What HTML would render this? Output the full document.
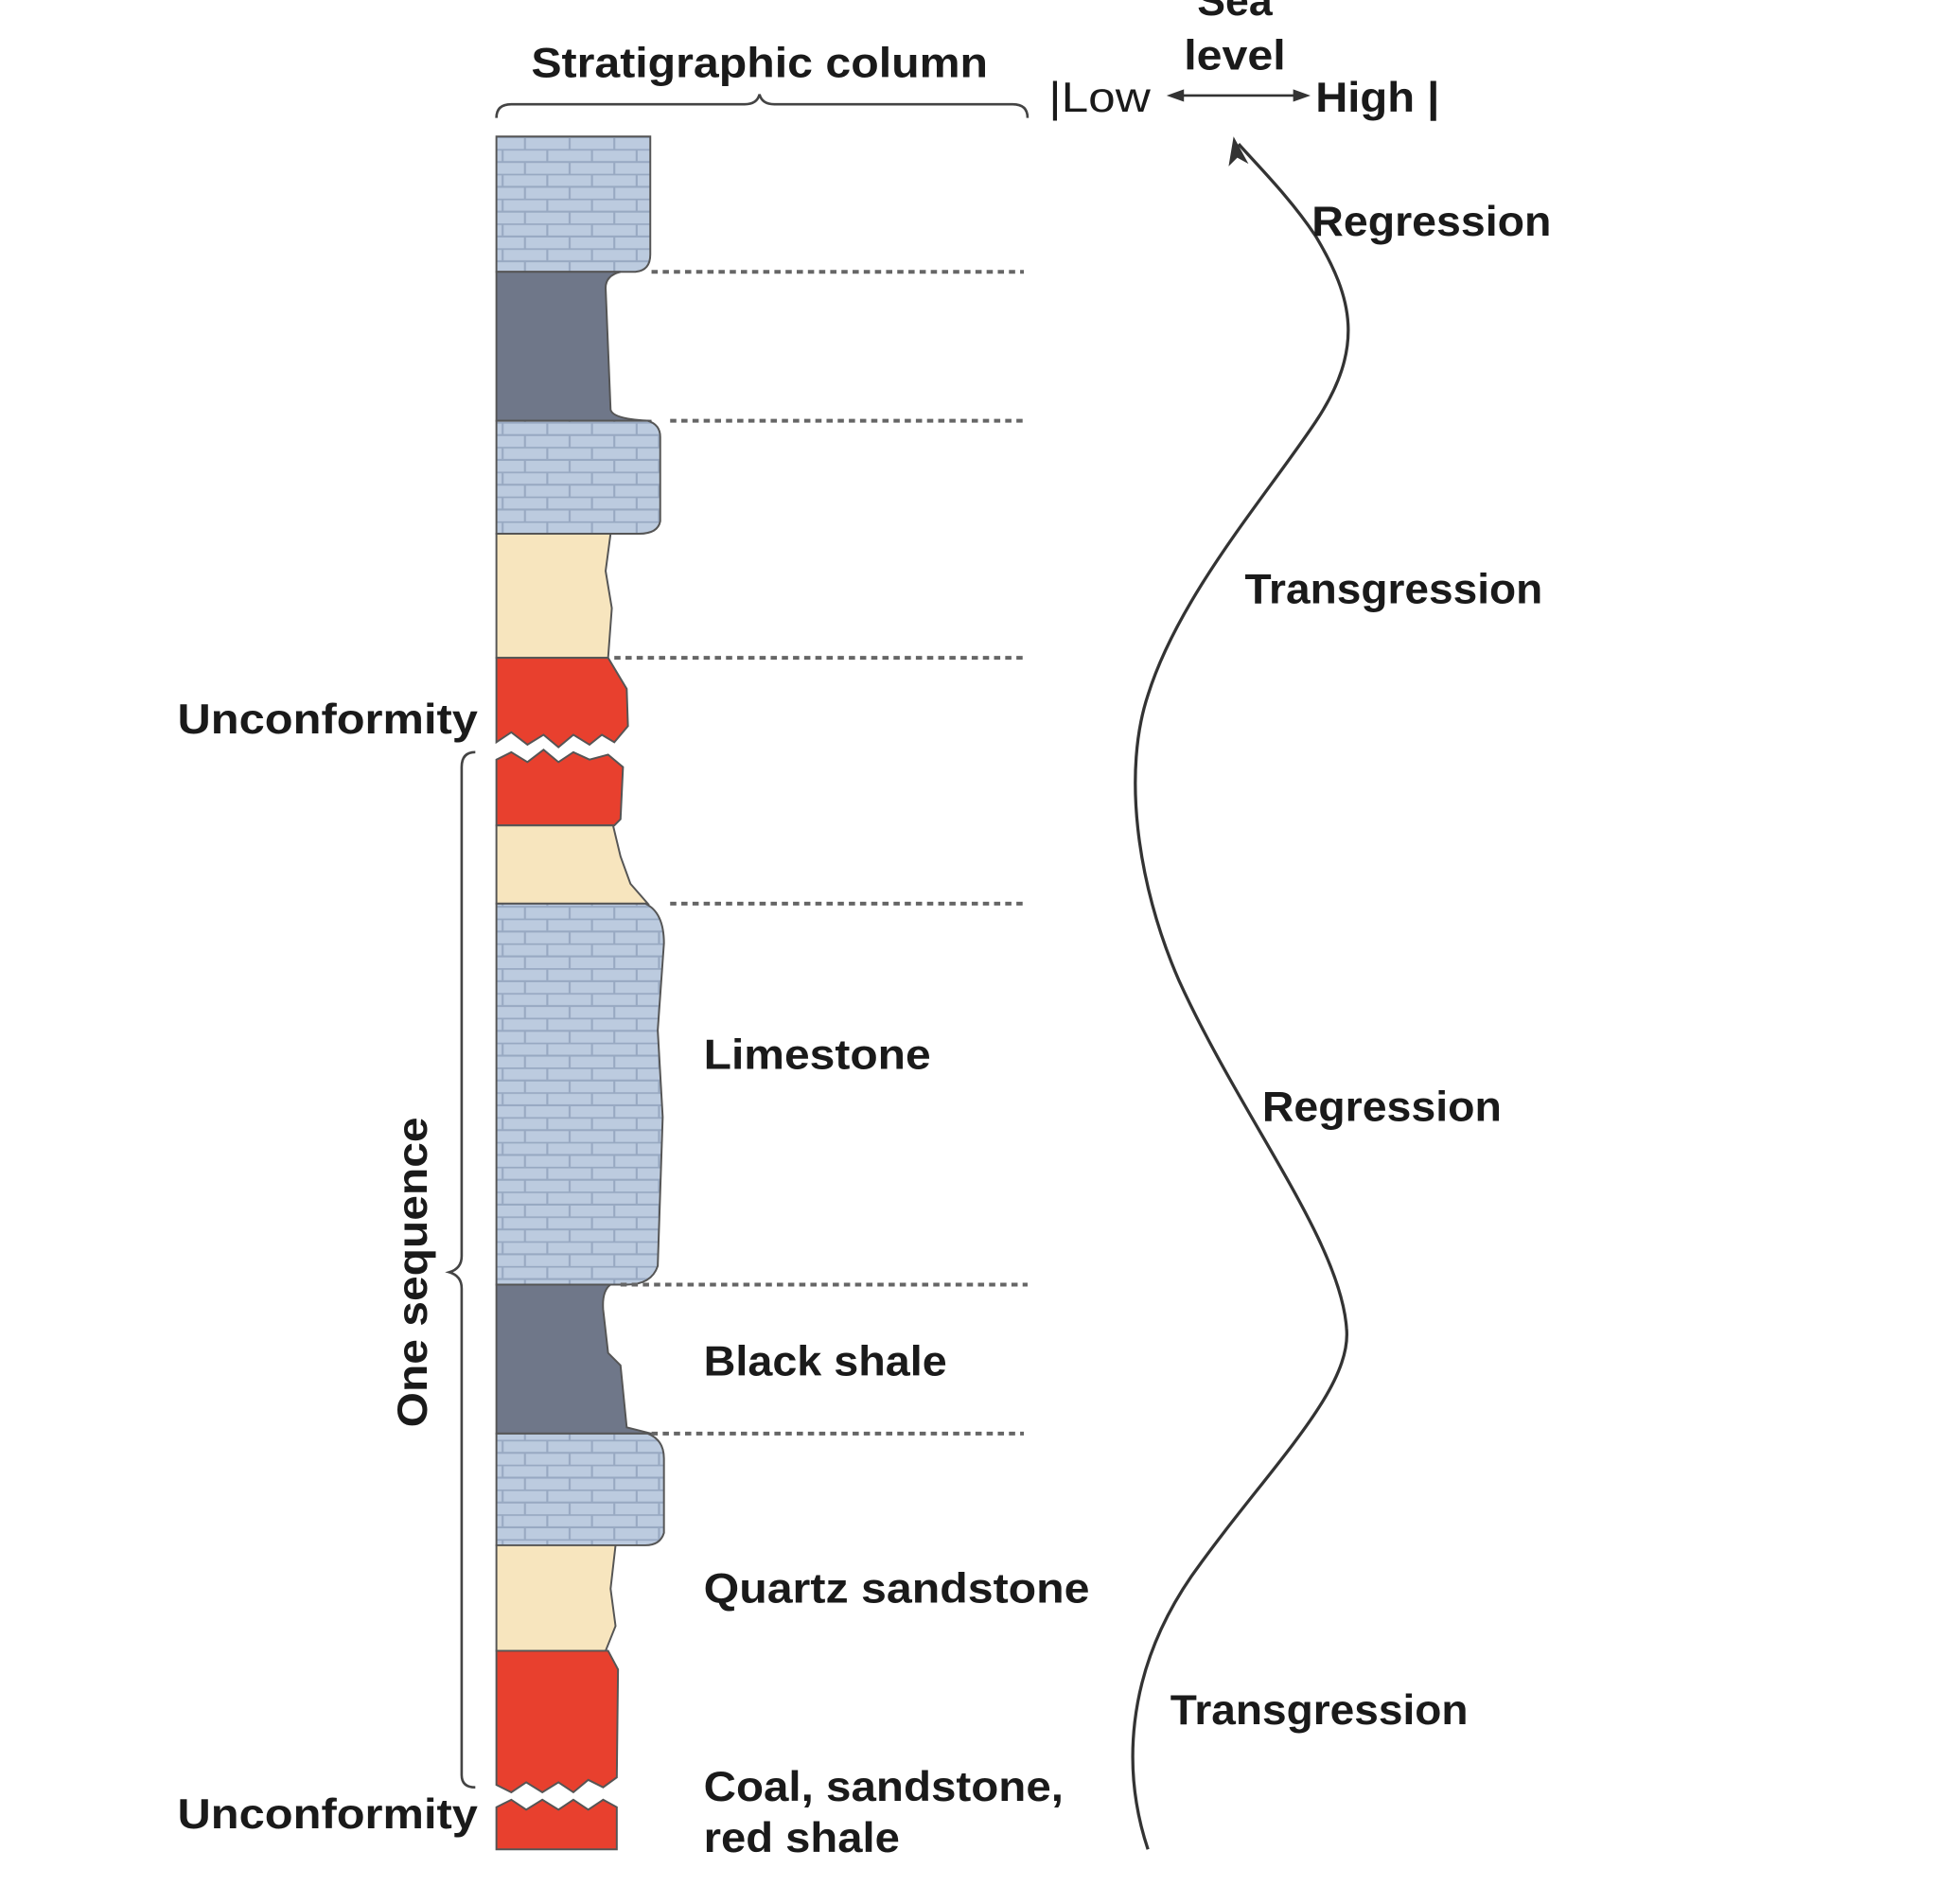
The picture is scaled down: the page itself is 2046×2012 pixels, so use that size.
<!DOCTYPE html>
<html><head><meta charset="utf-8"><style>
html,body{margin:0;padding:0;background:#fff}
svg{display:block}
text{font-family:"Liberation Sans",sans-serif;font-weight:bold;fill:#1a1a1a;font-size:34px}
</style></head><body>
<svg width="2046" height="2012" viewBox="0 0 1560 1534" preserveAspectRatio="none" xmlns="http://www.w3.org/2000/svg">
<defs>
<pattern id="brick" width="36" height="20" patternUnits="userSpaceOnUse">
<rect width="36" height="20" fill="#bccbdf"/>
<path d="M0 0.5H36M0 10.5H36M9 0V10M27 10V20" stroke="#98a9c2" stroke-width="1.6"/>
</pattern>
</defs>
<g stroke="#555" stroke-width="1.5">
<path d="M400 110 H524 V205 Q524 218 512 219 H400Z" fill="url(#brick)"/>
<path d="M400 219 H500 Q488 222 488 232 L492 330 Q494 338 525 339 H400Z" fill="#6f7789"/>
<path d="M400 339 H522 Q532 342 532 352 V420 Q530 430 515 430 H400Z" fill="url(#brick)"/>
<path d="M400 430 H492 L488 460 L493 490 L490 530 H400Z" fill="#f7e5be"/>
<path d="M400 530 H490 L505 555 L506 585 L495 598 L485 592 L475 600 L462 592 L450 602 L438 592 L425 600 L412 590 L400 598Z" fill="#e8402e"/>
<path d="M400 612 L412 606 L425 614 L438 604 L450 614 L462 606 L475 612 L490 608 L502 618 L500 660 L495 665 H400Z" fill="#e8402e"/>
<path d="M400 665 H494 L500 690 L508 712 L522 728 H400Z" fill="#f7e5be"/>
<path d="M400 728 H520 Q535 735 535 760 L530 830 L534 900 L530 1020 Q525 1035 505 1035 H400Z" fill="url(#brick)"/>
<path d="M400 1035 H492 Q485 1040 486 1055 L490 1090 L500 1100 L505 1150 L525 1155 H400Z" fill="#6f7789"/>
<path d="M400 1155 H522 Q535 1160 535 1175 V1235 Q532 1245 520 1245 H400Z" fill="url(#brick)"/>
<path d="M400 1245 H496 L492 1280 L496 1310 L488 1330 H400Z" fill="#f7e5be"/>
<path d="M400 1330 H490 L498 1345 L497 1432 L486 1440 L474 1434 L462 1444 L450 1436 L437 1444 L424 1436 L412 1444 L400 1438Z" fill="#e8402e"/>
<path d="M400 1456 L412 1450 L424 1458 L437 1450 L450 1458 L462 1450 L474 1458 L486 1450 L497 1456 V1490 H400Z" fill="#e8402e"/>
</g>
<g stroke="#666" stroke-width="3" stroke-dasharray="5 4">
<line x1="525" y1="219" x2="825" y2="219"/>
<line x1="540" y1="339" x2="828" y2="339"/>
<line x1="495" y1="530" x2="825" y2="530"/>
<line x1="540" y1="728" x2="828" y2="728"/>
<line x1="500" y1="1035" x2="828" y2="1035"/>
<line x1="525" y1="1155" x2="825" y2="1155"/>
</g>
<path d="M400 95 Q400 84 412 84 H600 Q610 84 612 76 Q614 84 624 84 H816 Q828 84 828 95" fill="none" stroke="#444" stroke-width="2"/>
<path d="M383 606 Q372 606 372 618 V1012 Q372 1022 362 1025 Q372 1028 372 1038 V1430 Q372 1440 383 1440" fill="none" stroke="#444" stroke-width="2"/>
<path d="M925 1490 C905 1430 905 1350 960 1270 C1020 1185 1090 1120 1085 1070 C1080 1000 1000 900 950 790 C915 710 905 620 925 560 C950 480 1020 400 1060 340 C1100 280 1090 240 1060 190 C1040 160 1015 135 998 116" fill="none" stroke="#333" stroke-width="2.5"/>
<path d="M994 110 L1006 132 L997 127 L990 134Z" fill="#333"/>
<line x1="948" y1="77" x2="1048" y2="77" stroke="#333" stroke-width="2"/>
<path d="M940 77 L954 72 L954 82Z M1056 77 L1042 72 L1042 82Z" fill="#333"/>
<text x="612" y="62" text-anchor="middle" textLength="368" lengthAdjust="spacingAndGlyphs">Stratigraphic column</text>
<text x="995" y="12" text-anchor="middle">Sea</text>
<text x="995" y="56" text-anchor="middle" textLength="82" lengthAdjust="spacingAndGlyphs">level</text>
<text x="845" y="90" style="font-weight:normal" textLength="82" lengthAdjust="spacingAndGlyphs">|Low</text>
<text x="1060" y="90" textLength="100" lengthAdjust="spacingAndGlyphs">High |</text>
<text x="1057" y="190" textLength="193" lengthAdjust="spacingAndGlyphs">Regression</text>
<text x="1003" y="486" textLength="240" lengthAdjust="spacingAndGlyphs">Transgression</text>
<text x="1017" y="903" textLength="193" lengthAdjust="spacingAndGlyphs">Regression</text>
<text x="943" y="1389" textLength="240" lengthAdjust="spacingAndGlyphs">Transgression</text>
<text x="567" y="861" textLength="183" lengthAdjust="spacingAndGlyphs">Limestone</text>
<text x="567" y="1108" textLength="196" lengthAdjust="spacingAndGlyphs">Black shale</text>
<text x="567" y="1291" textLength="311" lengthAdjust="spacingAndGlyphs">Quartz sandstone</text>
<text x="567" y="1451" textLength="290" lengthAdjust="spacingAndGlyphs">Coal, sandstone,</text>
<text x="567" y="1492" textLength="158" lengthAdjust="spacingAndGlyphs">red shale</text>
<text x="143" y="591" textLength="242" lengthAdjust="spacingAndGlyphs">Unconformity</text>
<text x="143" y="1473" textLength="242" lengthAdjust="spacingAndGlyphs">Unconformity</text>
<text transform="translate(344 1025) rotate(-90)" text-anchor="middle" textLength="250" lengthAdjust="spacingAndGlyphs">One sequence</text>
</svg>
</body></html>
